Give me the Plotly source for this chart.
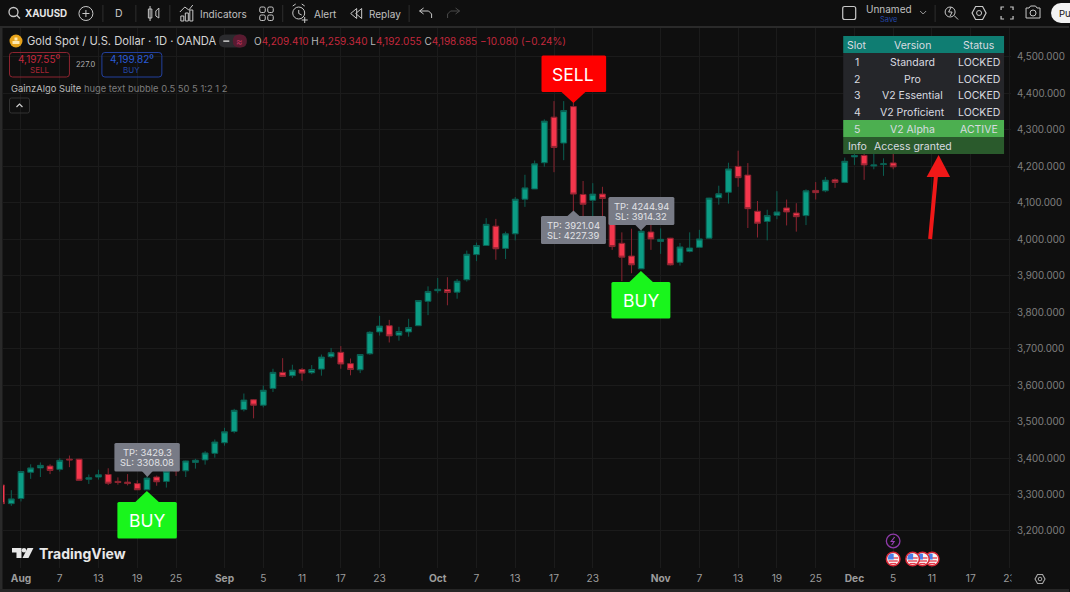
import plotly.graph_objects as go
import pandas as pd

# ---------- data ----------
OPEN = [3326,3275,3289,3361,3373,3378,3369,3397,3397,3342,3348,3355,3336,3334,3330,3313,3348,3336,3372,3365,
        3388,3395,3413,3442,3473,3533,3560,3545,3591,3635,3626,3643,3634,3644,3678,3690,3659,3642,3686,3746,
        3763,3737,3746,3763,3830,3859,3862,3855,3889,3958,3983,4036,3975,4015,4110,4138,4210,4335,4264,4364,
        4123,4107,4124,4112,3989,3954,3919,4020,3994,4003,3937,3967,3978,4003,4114,4129,4200,4176,4077,4049,
        4066,4086,4072,4065,4134,4133,4163,4156,4226,4230,4201,4205,4209.41]
HIGH = [3334,3312,3363,3383,3388,3383,3400,3407,3398,3355,3368,3372,3347,3356,3339,3350,3352,3376,3377,3393,
        3398,3419,3451,3483,3535,3577,3562,3599,3645,3674,3656,3647,3655,3684,3702,3707,3673,3684,3748,3790,
        3779,3760,3782,3833,3871,3894,3896,3891,3969,3991,4058,4056,4021,4116,4177,4216,4329,4379,4379,4377,
        4160,4154,4144,4113,4019,4029,4035,4044,4030,4004,3990,4019,4026,4114,4147,4210,4243,4209,4105,4081,
        4132,4109,4099,4137,4157,4171,4167,4224,4249,4245,4239,4222,4259.34]
LOW = [3268,3269,3281,3343,3348,3356,3363,3375,3339,3329,3341,3326,3327,3325,3313,3313,3324,3319,3351,3348,
       3371,3382,3401,3434,3468,3528,3509,3539,3581,3624,3620,3612,3630,3626,3674,3645,3627,3633,3683,3736,
       3717,3722,3733,3762,3792,3852,3819,3837,3884,3940,3983,3944,3946,3997,4089,4138,4199,4184,4217,4062,
       4049,4062,4058,3971,3885,3907,3919,3971,3960,3928,3928,3964,3978,4002,4095,4098,4144,4031,4005,3997,
       4055,4038,4021,4039,4109,4129,4141,4154,4204,4163,4192,4174,4192.055]
CLOSE = [3275,3288,3363,3373,3380,3366,3394,3395,3339,3346,3354,3331,3333,3330,3313,3345,3335,3364,3365,3392,
         3394,3414,3444,3472,3531,3559,3545,3586,3635,3624,3641,3633,3643,3677,3689,3658,3643,3684,3745,3762,
         3735,3747,3758,3832,3857,3863,3854,3885,3959,3983,4041,3974,4015,4110,4141,4207,4324,4252,4353,4124,
         4096,4124,4112,3980,3951,3930,4022,4001,4000,3930,3979,3976,4001,4113,4125,4193,4169,4084,4044,4065,
         4075,4075,4062,4133,4128,4162,4156,4214,4230,4204,4204,4207,4198.685]

SESSIONS = [d.strftime("%Y-%m-%d") for d in pd.bdate_range("2025-07-30", "2025-12-23")]
DATE_TICKS = ["2025-08-01","2025-08-07","2025-08-13","2025-08-19","2025-08-25","2025-09-01","2025-09-05",
              "2025-09-11","2025-09-17","2025-09-23","2025-10-01","2025-10-07","2025-10-13","2025-10-17",
              "2025-10-23","2025-11-03","2025-11-07","2025-11-13","2025-11-19","2025-11-25","2025-12-01",
              "2025-12-05","2025-12-11","2025-12-17","2025-12-23"]
DATE_LABELS = ["<b>Aug</b>","7","13","19","25","<b>Sep</b>","5","11","17","23","<b>Oct</b>","7","13","17","23",
               "<b>Nov</b>","7","13","19","25","<b>Dec</b>","5","11","17","23"]
PRICE_TICKS = [3200,3300,3400,3500,3600,3700,3800,3900,4000,4100,4200,4300,4400,4500]

SLOTS = ["1","2","3","4","5"]
VERSIONS = ["Standard","Pro","V2 Essential","V2 Proficient","V2 Alpha"]
STATUSES = ["LOCKED","LOCKED","LOCKED","LOCKED","ACTIVE"]

# ---------- page helpers (page pixels -> paper fractions) ----------
W, H = 1070, 592
BG = "#0f0f0f"
FONT = "Inter"
def X(v): return v / W
def Y(v): return 1 - v / H

shapes, notes = [], []
def rect(x0, y0, x1, y1, fill=None, line=None, lw=1, radius=0):
    if radius:
        r = radius
        d = (f"M{X(x0+r)},{Y(y0)} L{X(x1-r)},{Y(y0)} Q{X(x1)},{Y(y0)} {X(x1)},{Y(y0+r)} "
             f"L{X(x1)},{Y(y1-r)} Q{X(x1)},{Y(y1)} {X(x1-r)},{Y(y1)} L{X(x0+r)},{Y(y1)} "
             f"Q{X(x0)},{Y(y1)} {X(x0)},{Y(y1-r)} L{X(x0)},{Y(y0+r)} Q{X(x0)},{Y(y0)} {X(x0+r)},{Y(y0)} Z")
        shapes.append(dict(type="path", path=d, xref="paper", yref="paper", fillcolor=fill or "rgba(0,0,0,0)",
                           line=dict(color=line or "rgba(0,0,0,0)", width=lw if line else 0), layer="above"))
    else:
        shapes.append(dict(type="rect", x0=X(x0), x1=X(x1), y0=Y(y0), y1=Y(y1), xref="paper", yref="paper",
                           fillcolor=fill or "rgba(0,0,0,0)",
                           line=dict(color=line or "rgba(0,0,0,0)", width=lw if line else 0), layer="above"))
def seg(x0, y0, x1, y1, color, lw=1):
    shapes.append(dict(type="line", x0=X(x0), x1=X(x1), y0=Y(y0), y1=Y(y1), xref="paper", yref="paper",
                       line=dict(color=color, width=lw), layer="above"))
def circ(cx, cy, r, fill=None, line=None, lw=1):
    shapes.append(dict(type="circle", x0=X(cx-r), x1=X(cx+r), y0=Y(cy-r), y1=Y(cy+r), xref="paper", yref="paper",
                       fillcolor=fill or "rgba(0,0,0,0)",
                       line=dict(color=line or "rgba(0,0,0,0)", width=lw if line else 0), layer="above"))
def poly(pts, fill=None, line=None, lw=1, close=True):
    d = "M" + " L".join(f"{X(a)},{Y(b)}" for a, b in pts) + (" Z" if close else "")
    shapes.append(dict(type="path", path=d, xref="paper", yref="paper", fillcolor=fill or "rgba(0,0,0,0)",
                       line=dict(color=line or "rgba(0,0,0,0)", width=lw if line else 0), layer="above"))
def text(x, y, s, size=11, color="#d1d4dc", anchor="left", font=FONT):
    notes.append(dict(x=X(x), y=Y(y + 0.6), xref="paper", yref="paper", text=s, showarrow=False, xanchor=anchor,
                      yanchor="middle", borderpad=0, font=dict(family=font, size=size, color=color)))

# ---------- frame ----------
rect(0, 26, W, 28, fill="#2a2a2a")
rect(0, 28, 2.5, 590, fill="#2a2a2a")
rect(0, 589, W, 592, fill="#262626")

# ---------- toolbar ----------
ICON = "#c8c8c8"
circ(13.5, 12, 4.5, line=ICON, lw=1.3); seg(16.8, 15.3, 20, 18.5, ICON, 1.3)
text(24, 13, "<b>XAUUSD</b>", 9.8, "#e6e6e6")
circ(86, 13.5, 7, line=ICON, lw=1); seg(82.5, 13.5, 89.5, 13.5, ICON); seg(86, 10, 86, 17, ICON)
for sx in (103, 136, 170, 283, 409.5, 936):
    seg(sx, 5, sx, 22, "#2e2e2e")
text(119, 13, "D", 10.5, "#c8c8c8", "center")
rect(148.5, 9, 152, 18, line=ICON); seg(150.2, 6, 150.2, 21, ICON)
poly([(156, 11), (159, 8), (159, 18), (156, 16)], line=ICON)
rect(181, 16, 184, 21, line=ICON); rect(185.5, 13, 188.5, 21, line=ICON); rect(190, 10, 193, 21, line=ICON)
poly([(180, 12), (185, 7), (189, 10), (193, 5)], line=ICON, close=False)
text(199.5, 13, "Indicators", 10, "#c0c0c0")
for gx, gy in ((260, 7), (268, 7), (260, 15), (268, 15)):
    rect(gx, gy, gx+5.5, gy+5.5, line=ICON, radius=1.5)
circ(299, 13, 6, line=ICON); seg(299, 10, 299, 13.5, ICON); seg(299, 13.5, 302, 15, ICON)
seg(293, 6, 296, 4, ICON); seg(302, 4, 305, 6, ICON); seg(302, 20, 308, 20, ICON); seg(305, 17, 305, 23, ICON)
text(313, 13, "Alert", 10, "#c0c0c0")
poly([(357, 8.5), (351, 13.5), (357, 18.5)], line=ICON); poly([(362, 8.5), (356, 13.5), (362, 18.5)], line=ICON)
text(368, 13, "Replay", 10, "#c0c0c0")
poly([(424, 8), (420, 11), (424, 14)], line=ICON, close=False)
poly([(420, 11), (429, 11), (432, 14), (432, 18)], line=ICON, close=False)
DIM = "#4a4a4a"
poly([(456, 8), (460, 11), (456, 14)], line=DIM, close=False)
poly([(460, 11), (451, 11), (448, 14), (448, 18)], line=DIM, close=False)
rect(843.5, 6.5, 856.5, 19.5, line=ICON, lw=1.2, radius=2)
text(889.5, 8.5, "Unnamed", 10, "#c0c0c0", "center")
text(889, 18.5, "Save", 7.5, "#2447a8", "center")
poly([(921, 11), (924, 14), (927, 11)], line="#999999", close=False)
circ(951, 12, 5, line=ICON); seg(955, 15.5, 959, 19.5, ICON); poly([(952, 7), (949.5, 12), (953, 12), (951, 16)], line=ICON, close=False)
poly([(973, 13), (976.5, 6.5), (983.5, 6.5), (987, 13), (983.5, 19.5), (976.5, 19.5)], line=ICON, lw=1.2)
circ(980, 13, 2.5, line=ICON)
for a, b, c, d, e, f in ((1002, 10, 1002, 7, 1005, 7), (1011, 7, 1014, 7, 1014, 10),
                         (1002, 16, 1002, 19, 1005, 19), (1011, 19, 1014, 19, 1014, 16)):
    poly([(a, b), (c, d), (e, f)], line=ICON, lw=1.2, close=False)
poly([(1027, 8), (1030, 8), (1031.5, 6), (1036.5, 6), (1038, 8), (1041, 8), (1041, 18), (1027, 18)], line=ICON)
circ(1034, 13, 3, line=ICON)
circ(1062, 13, 10, fill="#f2f2f2"); rect(1062, 3, 1071, 23, fill="#f2f2f2")
text(1058.5, 12.8, "Pu", 9.5, "#111111")

# ---------- header ----------
circ(16, 41, 6.5, fill="#e5a21a")
rect(12.5, 41, 19.5, 44, fill="#ffe9b0"); rect(14.5, 37.5, 17.5, 40.5, fill="#ffe9b0")
text(26, 40.5, "Gold Spot / U.S. Dollar · 1D · OANDA", 11.2, "#d4d4d4")
rect(219, 34.5, 247, 47.5, fill="#2b2b2e", radius=6.5)
rect(233, 34.5, 247, 47.5, fill="#5a1a30", radius=6.5)
rect(223.5, 40.3, 229.5, 42, fill="#b8b8b8")
text(240, 40.5, "≈", 10, "#b5325a", "center")
RED = "#c4283d"
ohlc = (f"<span style='color:#b8b8b8'>O</span>4,209.410 <span style='color:#b8b8b8'>H</span>4,259.340 "
        f"<span style='color:#b8b8b8'>L</span>4,192.055 <span style='color:#b8b8b8'>C</span>4,198.685 "
        f"−10.080 (−0.24%)")
text(253, 40.5, ohlc, 10, RED)
rect(9.5, 52.5, 69.5, 77, line="#8d2430", lw=1, radius=3)
text(39.5, 58.5, "4,197.55⁰", 10, RED, "center")
text(39.5, 69.5, "SELL", 8, "#a92535", "center")
text(86, 63.5, "227.0", 7.5, "#b0b0b0", "center")
rect(102, 52.5, 162, 77, line="#23409e", lw=1, radius=3)
text(132, 58.5, "4,199.82⁰", 10, "#2a5bd7", "center")
text(132, 69.5, "BUY", 8, "#2447a8", "center")
text(10, 87.5, "<span style='color:#bdbdbd'>GainzAlgo Suite</span> huge text bubble 0.5 50 5 1:2 1 2", 9.4, "#7c7c7c")
rect(9.5, 98, 29.5, 113, line="#333333", lw=1, radius=2)
poly([(16.5, 107), (19.5, 104), (22.5, 107)], line="#cfcfcf", lw=1.2, close=False)

# ---------- signal labels ----------
def tag(x0, y0, x1, y1, base0, base1, apex, base_y, color, radius=1.5):
    rect(x0, y0, x1, y1, fill=color, radius=radius)
    poly([(base0, base_y), apex, (base1, base_y)], fill=color)

tag(542, 55.5, 606.7, 92, 562, 586, (574, 103), 92, "#ff0000")
text(574, 73.4, "SELL", 17.5, "#ffffff", "center")
tag(117.5, 502, 177, 538.5, 135.5, 159, (147, 491), 502, "#19f51c")
text(147, 520, "BUY", 17.5, "#ffffff", "center")
tag(612, 282, 671, 318.5, 630, 653.5, (641.5, 271), 282, "#19f51c")
text(641.5, 300, "BUY", 17.5, "#ffffff", "center")

GREY = "#787b86"
tag(114.5, 443, 180, 471.5, 142, 153, (147.5, 477), 471, GREY)
text(147.5, 452, "TP: 3429.3", 9.4, "#e2e3e6", "center"); text(147.5, 462.3, "SL: 3308.08", 9.4, "#e2e3e6", "center")
tag(541.5, 216, 606.5, 244, 568, 580, (574, 210.5), 216, GREY)
text(574, 225, "TP: 3921.04", 9.4, "#e2e3e6", "center"); text(574, 235, "SL: 4227.39", 9.4, "#e2e3e6", "center")
tag(609, 197, 675, 225, 636, 647, (641.5, 230.5), 225, GREY)
text(642, 205.5, "TP: 4244.94", 9.4, "#e2e3e6", "center"); text(642, 215.5, "SL: 3914.32", 9.4, "#e2e3e6", "center")

# ---------- status table ----------
rect(844, 36, 1005, 53, fill="#0f7d72")
rect(844, 53, 1005, 120, fill="#25262a")
rect(844, 120, 1005, 137, fill="#4caf50")
rect(844, 137, 1005, 154, fill="#2a5a2c")
TXT = "#d9dbe0"
text(858, 44.6, "Slot", 10.5, TXT, "center"); text(913.5, 44.6, "Version", 10.5, TXT, "center"); text(980, 44.6, "Status", 10.5, TXT, "center")
for k, (a, b, c) in enumerate(zip(SLOTS, VERSIONS, STATUSES)):
    yy = 61.6 + k * 16.8
    text(858, yy, a, 10.5, TXT, "center"); text(913.5, yy, b, 10.5, TXT, "center"); text(980, yy, c, 10.5, TXT, "center")
text(858, 145.6, "Info", 10.5, TXT, "center"); text(913.5, 145.6, "Access granted", 10.5, TXT, "center")

# ---------- red arrow ----------
seg(931, 239, 937, 174, "#f01818", 4)
poly([(939.5, 155), (951, 177), (927.5, 177)], fill="#f01818")

# ---------- logo ----------
LOGO = "#e8e8e8"
poly([(12, 548), (21.5, 548), (21.5, 558), (16.5, 558), (16.5, 552.5), (12, 552.5)], fill=LOGO)
circ(24, 550.3, 2.3, fill=LOGO)
poly([(27.5, 548), (33.5, 548), (28.5, 558), (22.5, 558)], fill=LOGO)
text(38, 553, "<b>TradingView</b>", 14, "#e8e8e8")

# ---------- event badges ----------
circ(894, 541, 6.8, line="#8e3aa8", lw=1.3)
poly([(895.5, 537), (892, 541.5), (895, 541.5), (892.5, 545)], line="#9c3fb8", lw=1.1, close=False)
def flag(cx, cy=559):
    circ(cx, cy, 6.8, fill="#f4f4f4", line="#d92635", lw=1.5)
    for dy, half in ((-1, 5), (2, 4.6), (4.6, 3)):
        seg(cx - half, cy + dy, cx + half, cy + dy, "#e8394a", 1.3)
    poly([(cx-4.8, cy-3.5), (cx-2.5, cy-5.3), (cx+0.5, cy-5.3), (cx+0.5, cy+0.5), (cx-5.3, cy+0.5)], fill="#4a7fe8")
for fx in (933, 923.3, 913.5, 894):
    flag(fx)

# ---------- axis-strip extras ----------
rect(1012.5, 570, 1032, 588, fill=BG)
poly([(1036, 579), (1038.5, 574.5), (1043.5, 574.5), (1046, 579), (1043.5, 583.5), (1038.5, 583.5)], line="#a8a8a8", lw=1.1)
circ(1041, 579, 1.8, line="#a8a8a8")

# ---------- figure ----------
fig = go.Figure(go.Candlestick(
    x=SESSIONS[:len(OPEN)], open=OPEN, high=HIGH, low=LOW, close=CLOSE,
    increasing=dict(line=dict(color="#0b5f52", width=1), fillcolor="#0b9c84"),
    decreasing=dict(line=dict(color="#8a2430", width=1), fillcolor="#f4364c"),
    whiskerwidth=0, hoverinfo="skip", showlegend=False,
))
fig.update_layout(
    width=1074, height=H, margin=dict(l=0, r=0, t=0, b=0), autosize=False,
    paper_bgcolor=BG, plot_bgcolor=BG, boxgap=0.14,
    font=dict(family=FONT), shapes=shapes, annotations=notes, dragmode=False,
    xaxis=dict(type="category", categoryorder="array", categoryarray=SESSIONS, domain=[3/W, 1012/W],
               range=[0.144, 104.16], tickmode="array", tickvals=DATE_TICKS, ticktext=DATE_LABELS,
               tickfont=dict(family=FONT, size=10.2, color="#9c9c9c"), ticks="", ticklabelstandoff=3,
               showline=False, zeroline=False,
               gridcolor="#1b1b1b", gridwidth=1, rangeslider=dict(visible=False), anchor="y"),
    yaxis=dict(side="right", domain=[1-568/H, 1-28/H], range=[3098.5, 4579.5], tickmode="array", tickvals=PRICE_TICKS,
               tickformat=",.3f", tickfont=dict(family=FONT, size=9.8, color="#7f7f7f"), ticks="", ticklabelstandoff=5,
               showline=False, zeroline=False, gridcolor="#1b1b1b", gridwidth=1, anchor="x"),
)
fig.write_html("out.html", config=dict(displayModeBar=False, staticPlot=True),
               post_script="document.body.style.margin='0';document.body.style.background='#0f0f0f';")
